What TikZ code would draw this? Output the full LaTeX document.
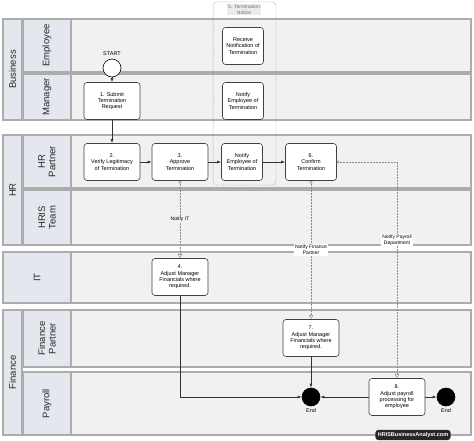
\documentclass[tikz,border=0pt]{standalone}
\usepackage{fontspec}
\setmainfont{Liberation Sans}
\usetikzlibrary{arrows.meta}
\definecolor{lanegray}{RGB}{241,241,241}
\definecolor{labelblue}{RGB}{228,232,238}
\definecolor{laneline}{RGB}{172,172,172}
\definecolor{flowgray}{RGB}{140,140,140}
\definecolor{markdark}{RGB}{38,38,38}

\begin{document}
\begin{tikzpicture}[x=1pt, y=-1pt,
  lane/.style={draw=laneline, line width=1.2pt, fill=lanegray},
  lanelabel/.style={draw=laneline, line width=1.2pt, fill=labelblue},
  lanetext/.style={rotate=90, align=center, text=black!85, font=\fontsize{9.5}{10.5}\selectfont},
  task/.style={draw=black!75, line width=0.6pt, rounded corners=3pt, fill=white, minimum width=56pt, minimum height=37pt, align=center, inner sep=1pt, font=\fontsize{5.5}{6.3}\selectfont},
  smalltask/.style={task, minimum width=41pt},
  event/.style={circle, draw=black, line width=0.6pt, fill=white, minimum size=18pt, inner sep=0pt},
  endevent/.style={event, fill=black},
  evlabel/.style={font=\fontsize{5.5}{6.5}\selectfont},
  flow/.style={draw=black!80, line width=0.6pt, -{Latex[length=4pt, width=3pt]}},
  msg/.style={draw=flowgray, line width=0.4pt, dash pattern=on 0.6pt off 0.9pt, {Circle[open, length=3pt, width=3pt]}-{Triangle[open, length=4pt, width=4pt]}},
  msglabel/.style={fill=white, inner sep=0.8pt, align=center, font=\fontsize{5}{6}\selectfont}
]
\useasboundingbox (0,0) rectangle (474,441);

% Business pool
\draw[lanelabel] (3,19) rectangle (22,120);
\draw[lane] (23,19) rectangle (471,72);
\draw[lanelabel] (23,19) rectangle (71,72);
\draw[lane] (23,74) rectangle (471,120);
\draw[lanelabel] (23,74) rectangle (71,120);
\node[lanetext] (business) at (12.5,69.5) {Business};
\node[lanetext] (employee) at (47,45.5) {Employee};
\node[lanetext] (manager) at (47,97) {Manager};

% HR pool
\draw[lanelabel] (3,135) rectangle (22,245);
\draw[lane] (23,135) rectangle (471,188);
\draw[lanelabel] (23,135) rectangle (71,188);
\draw[lane] (23,190) rectangle (471,245);
\draw[lanelabel] (23,190) rectangle (71,245);
\node[lanetext] (hr) at (12.5,190) {HR};
\node[lanetext] (hrpartner) at (47,161.5) {HR\\Partner};
\node[lanetext] (hristeam) at (47,217.5) {HRIS\\Team};

% IT pool
\draw[lane] (3,252) rectangle (471,303);
\draw[lanelabel] (3,252) rectangle (71,303);
\node[lanetext] (it) at (37,277.5) {IT};

% Finance pool
\draw[lanelabel] (3,310) rectangle (22,435);
\draw[lane] (23,310) rectangle (471,367);
\draw[lanelabel] (23,310) rectangle (71,367);
\draw[lane] (23,372) rectangle (471,435);
\draw[lanelabel] (23,372) rectangle (71,435);
\node[lanetext] (finance) at (12.5,372.5) {Finance};
\node[lanetext] (finpartner) at (47,338.5) {Finance\\Partner};
\node[lanetext] (payrolllane) at (47,403.5) {Payroll};

% Termination notice group
\draw[draw=flowgray, dash pattern=on 0.6pt off 0.9pt, line width=0.5pt, rounded corners=4pt] (213,2) rectangle (276,185);
\node[fill=black!8, text=black!55, align=center, inner sep=1pt, font=\fontsize{5}{5.8}\selectfont] (grouplbl) at (244,9.5) {5. Termination\\Notice};

% Events and tasks
\node[event] (start) at (112,68) {};
\node[evlabel] (startlbl) at (112,54) {START};
\node[task] (submit) at (112,101) {1. Submit\\Termination\\Request};
\node[smalltask] (receive) at (243,46) {Receive\\Notification of\\Termination};
\node[smalltask] (notifymgr) at (243,101) {Notify\\Employee of\\Termination};
\node[task] (verify) at (112,162) {2.\\Verify Legitimacy\\of Termination};
\node[task] (approve) at (180,162) {3.\\Approve\\Termination};
\node[smalltask] (notifyhr) at (242,162) {Notify\\Employee of\\Termination};
\node[task, minimum width=51pt] (confirm) at (311,162) {6.\\Confirm\\Termination};
\node[task] (adjustit) at (180,277) {4.\\Adjust Manager\\Financials where\\required.};
\node[task] (adjustfin) at (311,338) {7.\\Adjust Manager\\Financials where\\required.};
\node[endevent] (endmid) at (311,397) {};
\node[evlabel] (endmidlbl) at (311,411) {End};
\node[task] (payroll) at (397,397) {8.\\Adjust payroll\\processing for\\employee};
\node[endevent] (endright) at (446,397) {};
\node[evlabel] (endrightlbl) at (446,411) {End};

% Sequence flows
\draw[flow] (start) -- (submit);
\draw[flow] (submit) -- (verify);
\draw[flow] (verify) -- (approve);
\draw[flow] (approve) -- (notifyhr);
\draw[flow] (notifyhr) -- (confirm);
\draw[flow] (adjustit.south) |- (endmid.west);
\draw[flow] (adjustfin.south) -- (endmid.north);
\draw[flow] (payroll.west) -- (endmid.east);
\draw[flow] (payroll.east) -- (endright.west);

% Message flows
\draw[msg] (approve.south) -- node[msglabel, fill=lanegray] {Notify IT} (adjustit.north);
\draw[msg] (confirm.south) -- node[msglabel] {Notify Finance\\Partner} (adjustfin.north);
\draw[msg] (confirm.east) -| node[msglabel, pos=0.68] {Notify Payroll\\Department} (payroll.north);

% Watermark
\node[fill=markdark, rounded corners=3pt, text=white, inner sep=2.5pt, font=\bfseries\fontsize{5.5}{6}\selectfont] (mark) at (413,435) {HRISBusinessAnalyst.com};
\end{tikzpicture}
\end{document}
